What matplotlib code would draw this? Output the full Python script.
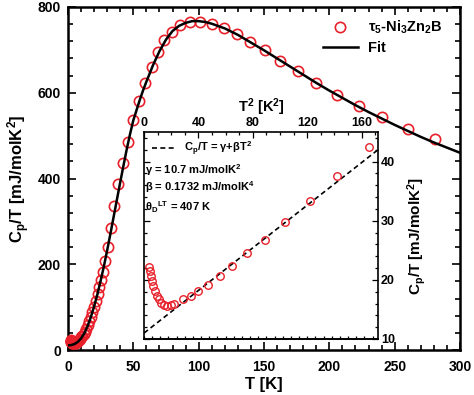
import matplotlib
matplotlib.use("Agg")
import matplotlib.pyplot as plt
from matplotlib.ticker import MultipleLocator

plt.rcParams['font.family'] = ['Liberation Sans', 'DejaVu Sans']
plt.rcParams['font.weight'] = 'bold'
plt.rcParams['axes.labelweight'] = 'bold'
plt.rcParams['mathtext.fontset'] = 'custom'
plt.rcParams['mathtext.rm'] = 'Liberation Sans:bold'
plt.rcParams['mathtext.it'] = 'Liberation Sans:bold'
plt.rcParams['mathtext.bf'] = 'Liberation Sans:bold'

# main panel: Cp/T vs T
main_t = [1.92, 2.1, 2.21, 2.39, 2.57, 2.81, 3.05, 3.32, 3.58, 3.83, 4.15, 4.43, 4.7,
          5.39, 5.86, 6.32, 6.86, 7.46, 8.06, 8.72, 9.43, 10.2, 11.05, 11.92, 12.86,
          13.9, 15.0, 16.2, 17.4, 18.6, 19.9, 21.2, 22.6, 24.0, 25.5, 27.0, 28.6, 30.3,
          32.6, 35.3, 38.5, 42.0, 45.8, 50.0, 54.4, 59.2, 64.0, 68.6, 73.7, 79.8, 85.7,
          93.4, 101.0, 110.0, 119.0, 129.0, 139.0, 151.0, 162.5, 175.7, 189.8, 205.9,
          222.5, 240.3, 260.2, 281.1]
main_cp = [22.2, 21.5, 20.6, 19.8, 18.9, 18.1, 17.3, 16.7, 16.1, 15.8, 15.6, 15.8, 16.0,
           16.7, 17.3, 18.1, 19.2, 20.6, 22.3, 24.5, 26.8, 29.8, 33.4, 37.5, 42.4,
           50, 58, 68, 78, 89, 101, 115, 130, 146, 163, 182, 208, 240,
           285, 335, 387, 435, 485, 536, 580, 622, 661, 694, 723, 742, 757,
           764, 764, 760, 750, 737, 718, 700, 674, 651, 623, 595,
           569, 544, 515, 491]

fit_t = [0, 2.5, 5, 7.5, 10, 12.5, 15, 17.5, 20, 22.5, 25, 27.5, 30, 32.5, 35, 37.5,
         40, 42.5, 45, 47.5, 50, 52.5, 55, 57.5, 60, 65, 70, 75, 80, 85, 90, 95, 100,
         105, 110, 120, 130, 140, 150, 160, 170, 180, 190, 200, 210, 220, 230, 240,
         250, 260, 270, 280, 290, 300]
fit_cp = [10.7, 11.5, 14, 19, 27, 39, 56, 77, 102, 130, 162, 196, 233, 272, 312, 352,
          392, 431, 469, 504, 536, 560, 584, 606, 626, 664, 697, 724, 744, 756, 763, 767, 767,
          765, 761, 750, 735, 717, 699, 680, 661, 642, 623, 605, 588, 571, 555, 540,
          525, 511, 497, 484, 472, 460]

# inset: Cp/T vs T^2
inset_t2 = [3.7, 4.4, 4.9, 5.7, 6.6, 7.9, 9.3, 11.0, 12.8, 14.7, 17.2, 19.6, 22.1,
            29.0, 34.3, 40.0, 47.1, 55.7, 65.0, 76.0, 89.0, 104.0, 122.0, 142.0, 165.5]
inset_cp = [22.2, 21.5, 20.6, 19.8, 18.9, 18.1, 17.3, 16.7, 16.1, 15.8, 15.6, 15.8, 16.0,
            16.7, 17.3, 18.1, 19.2, 20.6, 22.3, 24.5, 26.8, 29.8, 33.4, 37.5, 42.4]
lin_t2 = [0, 172]
lin_cp = [11.0, 42.0]

red = '#e8202a'

fig = plt.figure(figsize=(4.74, 3.95), dpi=100)
ax = fig.add_axes([0.1435, 0.1139, 0.827, 0.8684])

ax.plot(main_t, main_cp, 'o', ms=7.4, mfc='none', mec=red, mew=1.2,
        label=r'τ$_5$-Ni$_3$Zn$_2$B', clip_on=False, zorder=3)
ax.plot(fit_t, fit_cp, '-', color='black', lw=1.8, label='Fit', zorder=4)

ax.set_xlim(0, 300)
ax.set_ylim(0, 800)
ax.xaxis.set_major_locator(MultipleLocator(50))
ax.xaxis.set_minor_locator(MultipleLocator(10))
ax.yaxis.set_major_locator(MultipleLocator(200))
ax.yaxis.set_minor_locator(MultipleLocator(40))
ax.tick_params(which='both', direction='in', top=True, right=True, width=1.2,
               labelsize=10)
ax.tick_params(which='major', length=6, pad=5)
ax.tick_params(axis='x', which='major', pad=7)
ax.tick_params(which='minor', length=3.5)
for s in ax.spines.values():
    s.set_linewidth(1.8)
ax.set_xlabel('T [K]', fontsize=12, labelpad=2)
ax.set_ylabel(r'C$_p$/T [mJ/molK$^2$]', fontsize=12, labelpad=4)
plt.setp(ax.get_xticklabels() + ax.get_yticklabels(), fontweight='bold')

ax.legend(loc='upper right', bbox_to_anchor=(0.985, 1.0), frameon=False,
          fontsize=10.5, handlelength=2.4, handletextpad=0.7,
          labelspacing=0.35, borderaxespad=0.4)

# inset
ins = fig.add_axes([0.3038, 0.1418, 0.4937, 0.524])
ins.plot(inset_t2, inset_cp, 'o', ms=5.4, mfc='none', mec=red, mew=1.0, zorder=3)
ins.plot(lin_t2, lin_cp, color='black', lw=1.2, dashes=(3, 2),
         label=r'C$_p$/T = γ+βT$^2$', zorder=2)
ins.set_xlim(0, 172)
ins.set_ylim(10, 45)
ins.xaxis.set_major_locator(MultipleLocator(40))
ins.xaxis.set_minor_locator(MultipleLocator(10))
ins.yaxis.set_major_locator(MultipleLocator(10))
ins.yaxis.set_minor_locator(MultipleLocator(2))
ins.xaxis.tick_top()
ins.xaxis.set_label_position('top')
ins.yaxis.tick_right()
ins.yaxis.set_label_position('right')
ins.tick_params(which='both', direction='in', top=True, bottom=False, left=True,
                right=True, labelleft=False, labelbottom=False, width=0.9,
                labelsize=9)
ins.tick_params(which='major', length=4, pad=2)
ins.tick_params(which='minor', length=2.5)
bot = ins.secondary_xaxis('bottom')
bot.xaxis.set_major_locator(MultipleLocator(6))
bot.tick_params(direction='in', length=2.5, width=0.9, labelbottom=False)
bot.spines['bottom'].set_linewidth(1.2)
for s in ins.spines.values():
    s.set_linewidth(1.2)
ins.set_xlabel(r'T$^2$ [K$^2$]', fontsize=10.5, labelpad=4)
ins.set_ylabel(r'C$_p$/T [mJ/molK$^2$]', fontsize=11, labelpad=7)
plt.setp(ins.get_xticklabels() + ins.get_yticklabels(), fontweight='bold')

ins.legend(loc='upper left', bbox_to_anchor=(0.0, 1.0), frameon=False,
           fontsize=8, handlelength=2.3, handletextpad=0.6, borderaxespad=0.3)
ins.text(0.005, 0.816, 'γ = 10.7 mJ/molK$^2$', transform=ins.transAxes,
         fontsize=8, fontweight='bold', va='center', ha='left')
ins.text(0.005, 0.734, 'β = 0.1732 mJ/molK$^4$', transform=ins.transAxes,
         fontsize=8, fontweight='bold', va='center', ha='left')
ins.text(0.005, 0.638, 'θ$_D$$^{LT}$ = 407 K', transform=ins.transAxes,
         fontsize=8, fontweight='bold', va='center', ha='left')

fig.savefig('out.png', dpi=100)
